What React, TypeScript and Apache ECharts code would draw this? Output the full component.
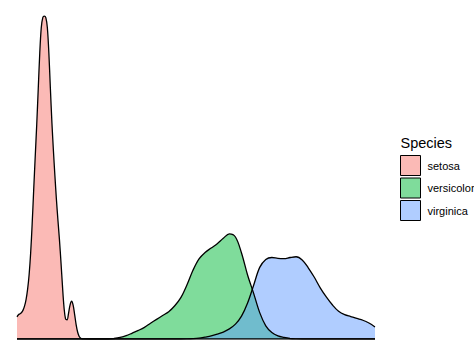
import React, { useEffect, useRef } from "react";
import * as echarts from "echarts";

const speciesNames = ["setosa", "versicolor", "virginica"];

const setosaX = [
  1.0, 1.025, 1.05, 1.075, 1.1, 1.125, 1.15, 1.175, 1.2, 1.225, 1.25, 1.275, 1.3, 1.325, 1.35, 1.375,
  1.4, 1.425, 1.45, 1.475, 1.5, 1.525, 1.55, 1.575, 1.6, 1.625, 1.65, 1.675, 1.7, 1.725, 1.75, 1.775,
  1.8, 1.825, 1.85, 1.875, 1.9, 1.925, 1.95, 1.975, 2.0, 2.025, 2.05, 2.075, 2.1, 2.2, 6.9,
];
const setosaY = [
  0.175, 0.191, 0.199, 0.209, 0.228, 0.261, 0.313, 0.393, 0.509, 0.679, 0.909, 1.175, 1.436, 1.691, 1.972, 2.255,
  2.457, 2.536, 2.547, 2.536, 2.458, 2.257, 1.978, 1.711, 1.488, 1.286, 1.099, 0.935, 0.78, 0.604, 0.413, 0.249,
  0.159, 0.152, 0.205, 0.269, 0.298, 0.267, 0.193, 0.112, 0.053, 0.02, 0.006, 0.0015, 0.0003, 0, 0,
];

const versicolorX = [
  1.0, 2.5, 2.6, 2.7, 2.8, 2.9, 3.0, 3.1, 3.2, 3.3, 3.4, 3.5, 3.6, 3.7, 3.8, 3.9, 4.0, 4.1, 4.2, 4.3,
  4.4, 4.5, 4.6, 4.7, 4.8, 4.9, 5.0, 5.1, 5.2, 5.3, 5.4, 5.5, 5.6, 5.7, 6.9,
];
const versicolorY = [
  0, 0, 0.004, 0.012, 0.026, 0.047, 0.068, 0.092, 0.124, 0.155, 0.185, 0.215, 0.262, 0.326, 0.426, 0.542,
  0.632, 0.683, 0.718, 0.752, 0.795, 0.829, 0.805, 0.679, 0.505, 0.36, 0.208, 0.104, 0.051, 0.024, 0.012,
  0.004, 0.001, 0, 0,
];

const virginicaX = [
  1.0, 3.7, 3.8, 3.9, 4.0, 4.1, 4.2, 4.3, 4.4, 4.5, 4.6, 4.7, 4.8, 4.9, 5.0, 5.1, 5.2, 5.3, 5.4, 5.5,
  5.6, 5.7, 5.8, 5.9, 6.0, 6.1, 6.2, 6.3, 6.4, 6.5, 6.6, 6.7, 6.8, 6.9,
];
const virginicaY = [
  0, 0, 0.001, 0.003, 0.007, 0.015, 0.024, 0.038, 0.055, 0.08, 0.117, 0.18, 0.284, 0.424, 0.565, 0.628,
  0.643, 0.636, 0.634, 0.643, 0.649, 0.624, 0.562, 0.487, 0.402, 0.33, 0.268, 0.219, 0.192, 0.177, 0.162,
  0.148, 0.126, 0.095,
];

const fills = ["rgba(248,118,109,0.5)", "rgba(0,186,56,0.5)", "rgba(97,156,255,0.5)"];

const FONT = "'Liberation Sans', Arial, Helvetica, sans-serif";

export default function App() {
  const ref = useRef<HTMLDivElement>(null);
  useEffect(() => {
    if (!ref.current) return;
    const chart = echarts.init(ref.current, null, { renderer: "svg" });
    const xs = [setosaX, versicolorX, virginicaX];
    const ys = [setosaY, versicolorY, virginicaY];
    const series = speciesNames.map((name, i) => ({
      name,
      type: "line",
      data: xs[i].map((x, j) => [x, ys[i][j]]),
      smooth: 0.35,
      symbol: "none",
      silent: true,
      itemStyle: { color: fills[i] },
      lineStyle: { color: "#000000", width: 1.3 },
      areaStyle: { color: fills[i], opacity: 1 },
      z: 2,
    }));
    chart.setOption({
      animation: false,
      grid: { left: 17, width: 358, top: 0, height: 339, containLabel: false },
      xAxis: {
        type: "value",
        min: 1.0,
        max: 6.9,
        show: false,
      },
      yAxis: {
        type: "value",
        min: 0,
        max: 2.675,
        show: false,
      },
      legend: {
        orient: "vertical",
        left: 400,
        top: 155,
        padding: 0,
        itemWidth: 20,
        itemHeight: 20,
        itemGap: 1.5,
        icon: "rect",
        selectedMode: false,
        textStyle: { fontFamily: FONT, fontSize: 11, color: "#000000", padding: [0, 0, 0, 2] },
        data: speciesNames.map((n, i) => ({
          name: n,
          itemStyle: { color: fills[i], borderColor: "#000000", borderWidth: 1 },
        })),
      },
      graphic: [
        {
          type: "text",
          x: 400.5,
          y: 143,
          style: {
            text: "Species",
            font: `14.5px ${FONT}`,
            fill: "#000000",
            verticalAlign: "middle",
            align: "left",
          },
        },
      ],
      series,
    });
    return () => chart.dispose();
  }, []);
  return (
    <div
      ref={ref}
      style={{ position: "fixed", left: 0, top: 0, width: 474, height: 355, background: "#ffffff" }}
    />
  );
}
